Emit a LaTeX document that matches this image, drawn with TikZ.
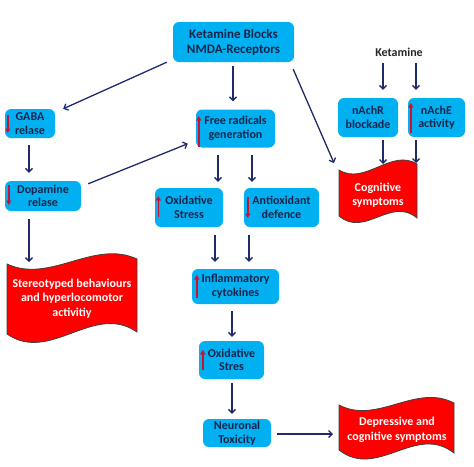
\documentclass[tikz,border=0pt]{standalone}
\usepackage{fontspec}
\setmainfont{Carlito}
\usetikzlibrary{arrows.meta,calc}
\definecolor{boxblue}{HTML}{00B0F0}
\definecolor{navy}{HTML}{1F2A6B}
\definecolor{txtnavy}{HTML}{14254D}
\definecolor{upred}{HTML}{D01030}
\definecolor{flagred}{HTML}{FF0000}
\newcommand{\waveflag}[8]{%
  \filldraw[flagstyle] (#1,#3) .. controls ({#1+(#2-#1)/3},{#3+#7}) and ({#1+2*(#2-#1)/3},{#4-#7}) .. (#2,#4)
    -- (#2,#6) .. controls ({#1+2*(#2-#1)/3},{#6-#8}) and ({#1+(#2-#1)/3},{#5+#8}) .. (#1,#5) -- cycle;}
\begin{document}
\begin{tikzpicture}[x=1pt,y=-1pt,
  bluebox/.style={draw=none, fill=boxblue, rounded corners=6pt, text=txtnavy,
    font=\bfseries\fontsize{12}{13.5}\selectfont, align=center, inner sep=0pt},
  arr/.style={navy, line width=1.3pt, -{Straight Barb[length=3.5pt,width=7pt]}},
  redarr/.style={upred, line width=1.4pt, -{Triangle[length=4.5pt,width=5pt]}},
  flagstyle/.style={fill=flagred, draw=black!75, line width=0.8pt},
  flagtext/.style={text=white, font=\bfseries\fontsize{12}{14.5}\selectfont, align=center, inner sep=0pt}]
\fill[white] (0,0) rectangle (474,466);
\useasboundingbox (0,0) rectangle (474,466);

% blue boxes
\node[bluebox, minimum width=121pt, minimum height=40pt, font=\bfseries\fontsize{13}{15}\selectfont] (ket) at (233.5,42) {Ketamine Blocks\\NMDA-Receptors};
\node[bluebox, minimum width=50pt, minimum height=29pt] (gaba) at (30,123.5) {GABA\\relase};
\node[bluebox, minimum width=76pt, minimum height=30pt] (dopa) at (43,196) {Dopamine\\relase};
\node[bluebox, minimum width=79pt, minimum height=38pt] (free) at (235.5,128.5) {Free radicals\\generation};
\node[bluebox, minimum width=68pt, minimum height=39pt] (oxi) at (189,207.5) {Oxidative\\Stress};
\node[bluebox, minimum width=75pt, minimum height=39pt] (anti) at (281.5,207.5) {Antioxidant\\defence};
\node[bluebox, minimum width=60pt, minimum height=39pt] (nachr) at (368,117.5) {nAchR\\blockade};
\node[bluebox, minimum width=57pt, minimum height=39pt] (nache) at (436.5,117.5) {nAchE\\activity};
\node[bluebox, minimum width=87pt, minimum height=35pt] (infl) at (235.5,286.5) {Inflammatory\\cytokines};
\node[bluebox, minimum width=65pt, minimum height=38pt] (oxs) at (231.5,360) {Oxidative\\Stres};
\node[bluebox, minimum width=68pt, minimum height=28pt] (neur) at (237,433) {Neuronal\\Toxicity};
\node[font=\bfseries\fontsize{12}{14}\selectfont, text=black!85, minimum height=14pt, inner sep=0pt] (kt) at (399,52) {Ketamine};

% red flags
\waveflag{7}{137}{264}{259}{334}{332}{20}{30}
\node[flagtext] (stereo) at (72,298.5) {Stereotyped behaviours\\and hyperlocomotor\\activitiy};
\waveflag{339}{417}{170}{164}{216}{218}{16}{22}
\node[flagtext] (cog) at (378,195) {Cognitive\\symptoms};
\waveflag{339}{454}{405}{403}{450}{453}{20}{30}
\node[flagtext] (dep) at (397,430) {Depressive and\\cognitive symptoms};

\coordinate (stereoIn) at (29,262);
\coordinate (cogA) at (334,163);
\coordinate (cogB) at (383,164);
\coordinate (cogC) at (416,163);
\coordinate (depIn) at (333,434);

% connectors
\draw[arr] ($(ket.south west)+(-6,0)$) -- ($(gaba.north east)+(8,0)$);
\draw[arr] ($(ket.south)+(-0.5,4)$) -- ($(free.north)+(-2.5,-8)$);
\draw[arr] ($(ket.south east)+(-1,7)$) -- (cogA);
\draw[arr] ($(gaba.south)+(-1,7)$) -- ($(dopa.north)+(-14,-8)$);
\draw[arr] ($(dopa.north east)+(7,3)$) -- ($(free.south west)+(-8,-4)$);
\draw[arr] ($(free.south)+(-17.5,7)$) -- ($(oxi.north)+(29,-6)$);
\draw[arr] ($(free.south)+(16.5,7)$) -- ($(anti.north)+(-29.5,-6)$);
\draw[arr] ($(dopa.south)+(-14,8)$) -- (stereoIn);
\draw[arr] ($(oxi.south)+(26,8)$) -- ($(infl.north)+(-20.5,-7)$);
\draw[arr] ($(anti.south)+(-32.5,8)$) -- ($(infl.north)+(13.5,-7)$);
\draw[arr] ($(infl.south)+(-3.5,7)$) -- ($(oxs.north)+(0.5,-4)$);
\draw[arr] ($(oxs.south)+(0.5,4)$) -- ($(neur.north)+(-5,-5)$);
\draw[arr] ($(neur.east)+(6,1)$) -- (depIn);
\draw[arr] ($(kt.south)+(-16,4)$) -- ($(nachr.north)+(15,-8)$);
\draw[arr] ($(kt.south)+(17,4)$) -- ($(nache.north)+(-20.5,-8)$);
\draw[arr] ($(nachr.south)+(15,3)$) -- (cogB);
\draw[arr] ($(nache.south)+(-20.5,3)$) -- (cogC);

% red up/down arrows
\draw[redarr] ($(gaba.west)+(3,-8.5)$) -- ($(gaba.west)+(3,9.5)$);
\draw[redarr] ($(dopa.west)+(4,-11)$) -- ($(dopa.west)+(4,9)$);
\draw[redarr] ($(free.west)+(3,18.5)$) -- ($(free.west)+(3,-12.5)$);
\draw[redarr] ($(oxi.west)+(3.5,9.5)$) -- ($(oxi.west)+(3.5,-11.5)$);
\draw[redarr] ($(anti.west)+(4,-10.5)$) -- ($(anti.west)+(4,10.5)$);
\draw[redarr] ($(nache.west)+(3,15.5)$) -- ($(nache.west)+(3,-14.5)$);
\draw[redarr] ($(infl.west)+(5,11.5)$) -- ($(infl.west)+(5,-11.5)$);
\draw[redarr] ($(oxs.west)+(4,10)$) -- ($(oxs.west)+(4,-10)$);
\end{tikzpicture}
\end{document}
